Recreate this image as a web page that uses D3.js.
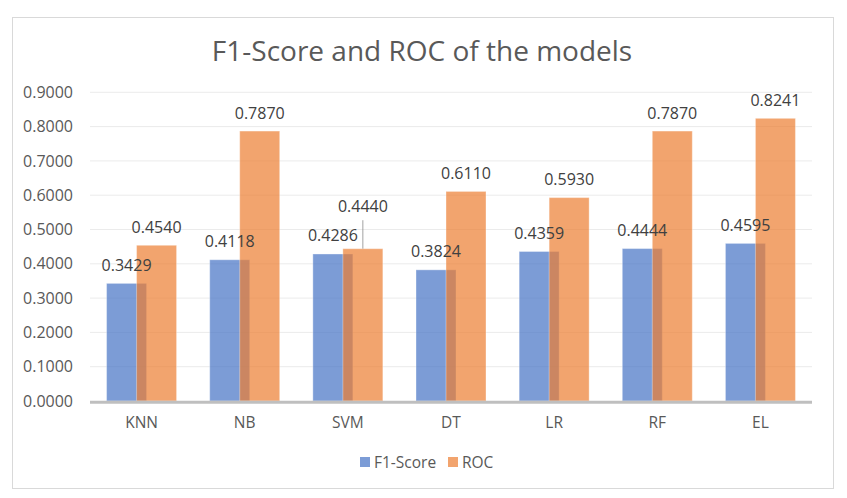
<!DOCTYPE html>
<html lang="en">
<head>
    <meta charset="UTF-8">
    <title>F1-Score and ROC of the models</title>
    <script src="https://cdn.jsdelivr.net/npm/d3@7"></script>
    <style>
        body { margin: 0; background: #fff; }
        svg { display: block; font-family: "Open Sans", sans-serif; }
    </style>
</head>
<body>
<svg width="847" height="498"></svg>

<script>
    // chart values
    const models = ["KNN", "NB", "SVM", "DT", "LR", "RF", "EL"];
    const f1Score = [0.3429, 0.4118, 0.4286, 0.3824, 0.4359, 0.4444, 0.4595];
    const roc = [0.4540, 0.7870, 0.4440, 0.6110, 0.5930, 0.7870, 0.8241];
    const yTicks = [0, 0.1, 0.2, 0.3, 0.4, 0.5, 0.6, 0.7, 0.8, 0.9];
    const seriesNames = ["F1-Score", "ROC"];

    const svg = d3.select("svg");

    // chart frame
    svg.append("rect")
        .attr("x", 12.5).attr("y", 17.5)
        .attr("width", 821).attr("height", 471)
        .attr("fill", "#fff")
        .attr("stroke", "#d9d9d9");

    // title
    svg.append("text")
        .attr("x", 422).attr("y", 61)
        .attr("text-anchor", "middle")
        .attr("font-size", "28px")
        .attr("fill", "#595959")
        .text("F1-Score and ROC of the models");

    // scales
    const x = d3.scaleBand().domain(models).range([90, 812]);
    const y = d3.scaleLinear().domain([0, 0.9]).range([401, 92.3]);
    const barW = 40, shift = 15;

    // gridlines + y labels
    svg.append("g").selectAll("line")
        .data(yTicks.slice(1))
        .enter().append("line")
        .attr("x1", 90).attr("x2", 812)
        .attr("y1", d => y(d)).attr("y2", d => y(d))
        .attr("stroke", "#ebebeb").attr("stroke-width", 1);

    svg.append("g").selectAll("text")
        .data(yTicks)
        .enter().append("text")
        .attr("x", 73).attr("y", d => y(d))
        .attr("dy", "0.35em")
        .attr("text-anchor", "end")
        .attr("font-size", "16px")
        .attr("fill", "#595959")
        .text(d => d3.format(".4f")(d));

    // bars: F1 first, ROC drawn on top, both a bit transparent
    const colors = ["#4472c4", "#ed7d31"];
    const series = [f1Score, roc];

    series.forEach(function (vals, i) {
        svg.append("g").selectAll("rect")
            .data(vals)
            .enter().append("rect")
            .attr("x", (d, j) => x(models[j]) + x.bandwidth() / 2 + (i === 0 ? -shift : shift) - barW / 2)
            .attr("y", d => y(d))
            .attr("width", barW)
            .attr("height", d => y(0) - y(d))
            .attr("fill", colors[i])
            .attr("fill-opacity", 0.7)
            .attr("stroke", "#ffffff")
            .attr("stroke-opacity", 0.35)
            .attr("stroke-width", 1);
    });

    // x axis line
    svg.append("line")
        .attr("x1", 90).attr("x2", 812)
        .attr("y1", y(0) + 1.2).attr("y2", y(0) + 1.2)
        .attr("stroke", "#bfbfbf").attr("stroke-width", 3);

    // category labels
    svg.append("g").selectAll("text")
        .data(models)
        .enter().append("text")
        .attr("x", d => x(d) + x.bandwidth() / 2)
        .attr("y", 428)
        .attr("text-anchor", "middle")
        .attr("font-size", "15.5px")
        .attr("fill", "#595959")
        .text(d => d);

    // data labels (SVM ROC label is lifted with a leader line)
    const lifted = {"SVM-1": 24};
    series.forEach(function (vals, i) {
        vals.forEach(function (v, j) {
            const cx = x(models[j]) + x.bandwidth() / 2 + (i === 0 ? -shift : shift);
            const up = lifted[models[j] + "-" + i] || 0;
            const ly = y(v) - 12.5 - up;
            svg.append("text")
                .attr("x", cx)
                .attr("y", ly)
                .attr("text-anchor", "middle")
                .attr("font-size", "16px")
                .attr("fill", "#404040")
                .text(d3.format(".4f")(v));
            if (up) {
                svg.append("line")
                    .attr("x1", cx).attr("x2", cx)
                    .attr("y1", ly + 8).attr("y2", y(v))
                    .attr("stroke", "#8c8c8c").attr("stroke-width", 0.8);
            }
        });
    });

    // legend
    const legend = svg.append("g");
    const legX = [360, 448];
    seriesNames.forEach(function (name, i) {
        legend.append("rect")
            .attr("x", legX[i]).attr("y", 457)
            .attr("width", 10).attr("height", 10)
            .attr("fill", colors[i]).attr("fill-opacity", 0.7);
        legend.append("text")
            .attr("x", legX[i] + 14).attr("y", 467.5)
            .attr("font-size", "15.5px")
            .attr("fill", "#595959")
            .text(name);
    });
</script>
</body>
</html>
